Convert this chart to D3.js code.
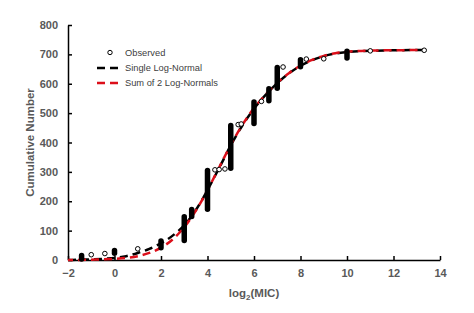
<!doctype html>
<html>
<head>
<meta charset="utf-8"/>
<script src="https://cdn.jsdelivr.net/npm/d3@7"></script>
<style>
body{margin:0;background:#fff;}
text{font-family:"Liberation Sans",Arial,sans-serif;}
</style>
</head>
<body>
<script>
// observed: stacked points at each log2(MIC), cumulative count from lo to hi
var obsX  = [-1.415, -1, -0.415, 0, 1, 2, 3, 3.32, 4, 4.32, 4.5, 4.75, 5, 5.32, 5.45, 6, 6.32, 6.64, 7, 7.25, 8, 8.25, 9, 10, 11, 13.32];
var obsLo = [3, 18, 22, 23, 38, 42, 66, 148, 173, 307, 308, 310, 312, 461, 463, 465, 540, 542, 585, 657, 658, 684, 685, 688, 712, 714];
var obsHi = [15, 18, 22, 32, 38, 65, 147, 172, 305, 307, 308, 310, 458, 461, 463, 538, 540, 583, 655, 657, 682, 684, 685, 711, 712, 714];

// fitted curves
var fitX   = [-2, -1.5, -1, -0.5, 0, 0.5, 1, 1.5, 2, 2.5, 3, 3.5, 4, 4.5, 5, 5.5, 6, 6.5, 7, 7.5, 8, 8.5, 9, 9.5, 10, 11, 12, 13.32];
var single = [0, 1, 2, 4, 7, 13, 24, 38, 57, 83, 118, 170, 238, 313, 390, 458, 515, 562, 602, 635, 661, 680, 694, 703, 708, 712, 714, 715];
var sum2   = [0, 0, 1, 2, 4, 7, 13, 24, 42, 70, 112, 168, 238, 315, 392, 460, 517, 563, 603, 636, 662, 681, 695, 704, 709, 713, 714, 715];

var xTicks = [-2, 0, 2, 4, 6, 8, 10, 12, 14];
var yTicks = [0, 100, 200, 300, 400, 500, 600, 700, 800];

var width = 474, height = 313;
var red = "#dc0f1a";
var svg = d3.select("body").append("svg").attr("width", width).attr("height", height);

var x = d3.scaleLinear().domain([-2, 14]).range([68, 440]);
var y = d3.scaleLinear().domain([0, 800]).range([260, 25]);

// axes
var xa = svg.append("g").attr("transform", "translate(0," + y(0) + ")")
  .call(d3.axisBottom(x).tickValues(xTicks).tickSize(-4).tickSizeOuter(0).tickPadding(9));
var ya = svg.append("g").attr("transform", "translate(" + x(-2) + ",0)")
  .call(d3.axisLeft(y).tickValues(yTicks).tickSize(-4).tickSizeOuter(0).tickPadding(10));
[xa, ya].forEach(function(a){
  a.select(".domain").attr("stroke", "#000").attr("stroke-width", 1.5);
  a.selectAll(".tick line").attr("stroke", "#000").attr("stroke-width", 1.5);
  a.selectAll(".tick text").attr("fill", "#595959").style("font-size", "11px").style("font-weight", "bold");
});

// axis titles
svg.append("text").attr("transform", "translate(34," + (y(0) + y(800)) / 2 + ") rotate(-90)")
  .attr("text-anchor", "middle").attr("fill", "#595959")
  .style("font-size", "11.5px").style("font-weight", "bold").text("Cumulative Number");
var xt = svg.append("text").attr("x", 254).attr("y", 297).attr("text-anchor", "middle")
  .attr("fill", "#595959").style("font-size", "11.5px").style("font-weight", "bold");
xt.append("tspan").text("log");
xt.append("tspan").attr("dy", 3).style("font-size", "8px").text("2");
xt.append("tspan").attr("dy", -3).text("(MIC)");

// curves
var line = d3.line().x(function(d){return x(d[0]);}).y(function(d){return y(d[1]);}).curve(d3.curveMonotoneX);
svg.append("path").datum(d3.zip(fitX, single)).attr("d", line)
  .attr("fill", "none").attr("stroke", "#000").attr("stroke-width", 2.5).attr("stroke-dasharray", "8,5");
svg.append("path").datum(d3.zip(fitX, sum2)).attr("d", line)
  .attr("fill", "none").attr("stroke", red).attr("stroke-width", 2.5).attr("stroke-dasharray", "8,5").attr("stroke-dashoffset", 3);

// observed
var obs = d3.range(obsX.length).map(function(i){return {x: obsX[i], lo: obsLo[i], hi: obsHi[i]};});
svg.selectAll(".stack").data(obs.filter(function(d){return d.hi > d.lo;})).enter().append("line")
  .attr("x1", function(d){return x(d.x);}).attr("x2", function(d){return x(d.x);})
  .attr("y1", function(d){return y(d.lo);}).attr("y2", function(d){return y(d.hi);})
  .attr("stroke", "#000").attr("stroke-width", 5.5).attr("stroke-linecap", "round");
svg.selectAll(".pt").data(obs.filter(function(d){return d.hi == d.lo;})).enter().append("circle")
  .attr("cx", function(d){return x(d.x);}).attr("cy", function(d){return y(d.hi);}).attr("r", 2.3)
  .attr("fill", "#fff").attr("stroke", "#000").attr("stroke-width", 1);

// legend
var lg = svg.append("g").style("font-size", "9.3px");
lg.append("circle").attr("cx", 110).attr("cy", 52.5).attr("r", 2.2).attr("fill", "#fff").attr("stroke", "#000");
[["#000", 68, "Single Log-Normal"], [red, 83, "Sum of 2 Log-Normals"]].forEach(function(r){
  lg.append("line").attr("x1", 97).attr("x2", 118).attr("y1", r[1]).attr("y2", r[1])
    .attr("stroke", r[0]).attr("stroke-width", 2.5).attr("stroke-dasharray", "8,5");
});
["Observed", "Single Log-Normal", "Sum of 2 Log-Normals"].forEach(function(t, i){
  lg.append("text").attr("x", 125).attr("y", 53 + i * 15).attr("dy", "0.35em").attr("fill", "#404040").text(t);
});
</script>
</body>
</html>
